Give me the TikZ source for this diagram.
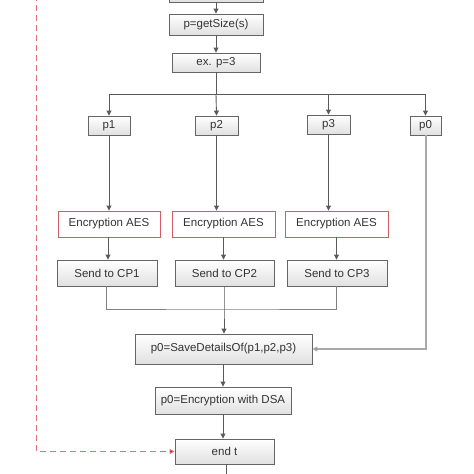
\documentclass[tikz,border=0pt]{standalone}
\usepackage{fontspec}
\setmainfont{Liberation Sans}
\usetikzlibrary{arrows.meta,shadows}
\definecolor{linegray}{HTML}{5A5A5A}
\definecolor{lightline}{HTML}{A8A8A8}
\definecolor{boxborder}{HTML}{656565}
\definecolor{aesred}{HTML}{D45A6A}
\definecolor{dashred}{HTML}{E0707C}
\tikzset{
  every node/.style={font=\fontsize{11.5}{13}\selectfont, text=black!80, inner sep=0pt},
  procbox/.style={draw=boxborder, line width=0.9pt, top color=white, bottom color=black!12,
     drop shadow={shadow xshift=1pt, shadow yshift=-1pt, opacity=0.25, fill=black}},
  aesbox/.style={draw=aesred, line width=0.9pt, fill=white,
     drop shadow={shadow xshift=1pt, shadow yshift=-1pt, opacity=0.2, fill=black}},
  flow/.style={draw=linegray, line width=0.9pt, -{Triangle[length=5pt,width=5pt]}},
  plain/.style={draw=linegray, line width=0.9pt},
  light/.style={draw=lightline, line width=1.2pt},
  lightarrow/.style={draw=lightline, line width=1.2pt, -{Triangle[length=5pt,width=5pt,fill=linegray]}},
  back/.style={draw=dashred, line width=0.9pt, dash pattern=on 6pt off 4pt, -{Triangle[length=5pt,width=5pt,fill=red!85!black]}}
}
\begin{document}
\begin{tikzpicture}[x=1pt,y=-1pt]
\useasboundingbox (0,0) rectangle (474,474);
\begin{scope}
\clip (0,0) rectangle (474,474);
% boxes
\node[procbox, minimum width=94pt, minimum height=22pt] (top) at (216,-9) {};
\node[procbox, minimum width=94pt, minimum height=21pt] (gs) at (216,24.5) {p=getSize(s)};
\node[procbox, minimum width=88pt, minimum height=19pt] (ex) at (216,62.5) {ex. p=3};
\coordinate (split) at (216,94);
\node[procbox, minimum width=42pt, minimum height=19pt] (p1) at (109,125.5) {p1};
\node[procbox, minimum width=43pt, minimum height=19pt] (p2) at (216.5,125.5) {p2};
\node[procbox, minimum width=43pt, minimum height=19pt] (p3) at (328.5,124.5) {p3};
\node[procbox, minimum width=31pt, minimum height=19pt] (p0) at (425.5,125.5) {p0};
\node[aesbox, minimum width=102pt, minimum height=26pt] (a1) at (109,224) {Encryption AES};
\node[aesbox, minimum width=103pt, minimum height=26pt] (a2) at (223.5,224) {Encryption AES};
\node[aesbox, minimum width=103pt, minimum height=26pt] (a3) at (336.5,224) {Encryption AES};
\node[procbox, minimum width=100pt, minimum height=26pt] (s1) at (107,273) {Send to CP1};
\node[procbox, minimum width=99pt, minimum height=26pt] (s2) at (224.5,273) {Send to CP2};
\node[procbox, minimum width=100pt, minimum height=26pt] (s3) at (337,273) {Send to CP3};
\coordinate (merge) at (224,309);
\node[procbox, minimum width=177pt, minimum height=30pt] (sd) at (223.5,349) {p0=SaveDetailsOf(p1,p2,p3)};
\node[procbox, minimum width=136pt, minimum height=27pt] (dsa) at (223,400.5) {p0=Encryption with DSA};
\node[procbox, minimum width=99pt, minimum height=25pt] (end) at (224.5,451.5) {end t};
\coordinate (bottom) at (226,480);
\coordinate (loopstart) at (36,-5);
% connectors
\draw[flow] (top.south) -- (gs.north);
\draw[flow] (gs.south) -- (ex.north);
\draw[plain] (ex.south) -- (split);
\draw[flow] (split) -| (p1.north);
\draw[flow] (split) -- (p2.north);
\draw[flow] (split) -| (p3.north);
\draw[flow] (split) -| (p0.north);
\draw[flow] (p1.south) -- (a1.north);
\draw[flow] (p2.south) -- (p2.south |- a2.north);
\draw[flow] (p3.south) -- (p3.south |- a3.north);
\draw[flow] ([xshift=-1pt]a1.south) -- ([xshift=-1pt]a1.south |- s1.north);
\draw[flow] (a2.south) -- (a2.south |- s2.north);
\draw[flow] (a3.south) -- (a3.south |- s3.north);
\draw[light, draw=black!50, line width=0.8pt] (s1.south -| 106,0) |- (merge) -| (s3.south -| 336,0);
\draw[flow] (s2.south -| merge) -- (merge) -- (merge |- sd.north);
\draw[lightarrow] (p0.south -| 426,0) |- (sd.east);
\draw[flow] (sd.south -| dsa.north) -- (dsa.north);
\draw[flow] (dsa.south) -- (dsa.south |- end.north);
\draw[plain] (end.south -| bottom) -- (bottom);
\draw[back] (loopstart) |- (end.west);
\end{scope}
\end{tikzpicture}
\end{document}
